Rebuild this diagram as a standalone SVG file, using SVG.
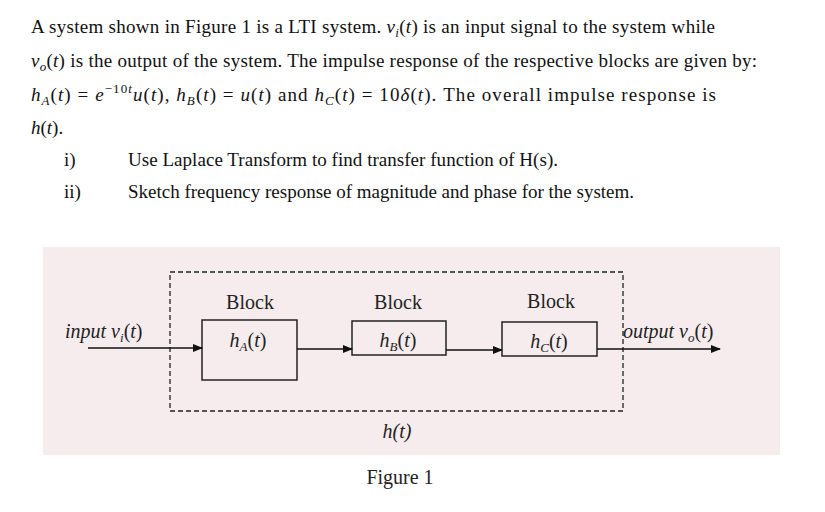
<svg xmlns="http://www.w3.org/2000/svg" width="825" height="512" viewBox="0 0 825 512">
<defs>
<marker id="ah" markerWidth="10" markerHeight="8" refX="9" refY="4" orient="auto" markerUnits="userSpaceOnUse"><path d="M0,0 L10,4 L0,8 z" fill="#111"/></marker>
<style>
.t{font-family:"Liberation Serif",serif;font-size:19px;fill:#111}
.m{font-family:"Liberation Serif",serif;font-style:italic}
.d{font-family:"Liberation Serif",serif;font-size:20px;fill:#222}
.b{fill:none;stroke:#222;stroke-width:1.5}
.c{stroke:#111;stroke-width:1.6;fill:none;marker-end:url(#ah)}
</style>
</defs>
<rect width="825" height="512" fill="#fff"/>
<g id="question">
<text class="t" x="31" y="33" textLength="684" lengthAdjust="spacing">A system shown in Figure 1 is a LTI system. <tspan class="m">v</tspan><tspan class="m" font-size="13" dy="4">i</tspan><tspan dy="-4">(</tspan><tspan class="m">t</tspan>) is an input signal to the system while</text>
<text class="t" x="31" y="67" textLength="726" lengthAdjust="spacing"><tspan class="m">v</tspan><tspan class="m" font-size="13" dy="4">o</tspan><tspan dy="-4">(</tspan><tspan class="m">t</tspan>) is the output of the system. The impulse response of the respective blocks are given by:</text>
<text class="t" x="31" y="101" textLength="685" lengthAdjust="spacing"><tspan class="m">h</tspan><tspan class="m" font-size="13" dy="4">A</tspan><tspan dy="-4">(</tspan><tspan class="m">t</tspan>) = <tspan class="m">e</tspan><tspan font-size="13" dy="-8">−10<tspan class="m">t</tspan></tspan><tspan class="m" dy="8">u</tspan>(<tspan class="m">t</tspan>), <tspan class="m">h</tspan><tspan class="m" font-size="13" dy="4">B</tspan><tspan dy="-4">(</tspan><tspan class="m">t</tspan>) = <tspan class="m">u</tspan>(<tspan class="m">t</tspan>) and <tspan class="m">h</tspan><tspan class="m" font-size="13" dy="4">C</tspan><tspan dy="-4">(</tspan><tspan class="m">t</tspan>) = 10<tspan class="m">δ</tspan>(<tspan class="m">t</tspan>). The overall impulse response is</text>
<text class="t" x="31" y="134"><tspan class="m">h</tspan>(<tspan class="m">t</tspan>).</text>
<text class="t" x="64" y="166">i)</text>
<text class="t" x="128" y="166" textLength="430" lengthAdjust="spacing">Use Laplace Transform to find transfer function of H(s).</text>
<text class="t" x="64" y="198">ii)</text>
<text class="t" x="128" y="198" textLength="506" lengthAdjust="spacing">Sketch frequency response of magnitude and phase for the system.</text>
</g>
<rect x="43" y="247" width="737" height="208" fill="#f6eced"/>
<g id="system">
<rect x="170" y="272" width="453" height="139" fill="none" stroke="#222" stroke-width="1.3" stroke-dasharray="5,3"/>
<text class="d m" x="397" y="438" text-anchor="middle">h(t)</text>
</g>
<g id="blockA">
<rect class="b" x="202" y="320" width="95" height="60"/>
<text class="d" x="250" y="309" text-anchor="middle">Block</text>
<text class="d" x="248" y="347" text-anchor="middle"><tspan class="m">h</tspan><tspan class="m" font-size="13" dy="4">A</tspan><tspan dy="-4">(</tspan><tspan class="m">t</tspan>)</text>
</g>
<g id="blockB">
<rect class="b" x="352" y="321" width="94" height="34"/>
<text class="d" x="398" y="309" text-anchor="middle">Block</text>
<text class="d" x="398" y="347" text-anchor="middle"><tspan class="m">h</tspan><tspan class="m" font-size="13" dy="4">B</tspan><tspan dy="-4">(</tspan><tspan class="m">t</tspan>)</text>
</g>
<g id="blockC">
<rect class="b" x="502" y="322" width="95" height="34"/>
<text class="d" x="551" y="308" text-anchor="middle">Block</text>
<text class="d" x="549" y="348" text-anchor="middle"><tspan class="m">h</tspan><tspan class="m" font-size="13" dy="4">C</tspan><tspan dy="-4">(</tspan><tspan class="m">t</tspan>)</text>
</g>
<g id="io">
<text class="d" x="65" y="338"><tspan class="m">input v</tspan><tspan class="m" font-size="13" dy="4">i</tspan><tspan dy="-4">(</tspan><tspan class="m">t</tspan>)</text>
<text class="d" x="623" y="338"><tspan class="m">output v</tspan><tspan class="m" font-size="13" dy="4">o</tspan><tspan dy="-4">(</tspan><tspan class="m">t</tspan>)</text>
</g>
<g id="connectors">
<path class="c" d="M88,348 H202"/>
<path class="c" d="M297,349 H352"/>
<path class="c" d="M446,350 H502"/>
<path class="c" d="M597,349 H720"/>
</g>
<text class="d" x="400" y="484" text-anchor="middle">Figure 1</text>
</svg>
